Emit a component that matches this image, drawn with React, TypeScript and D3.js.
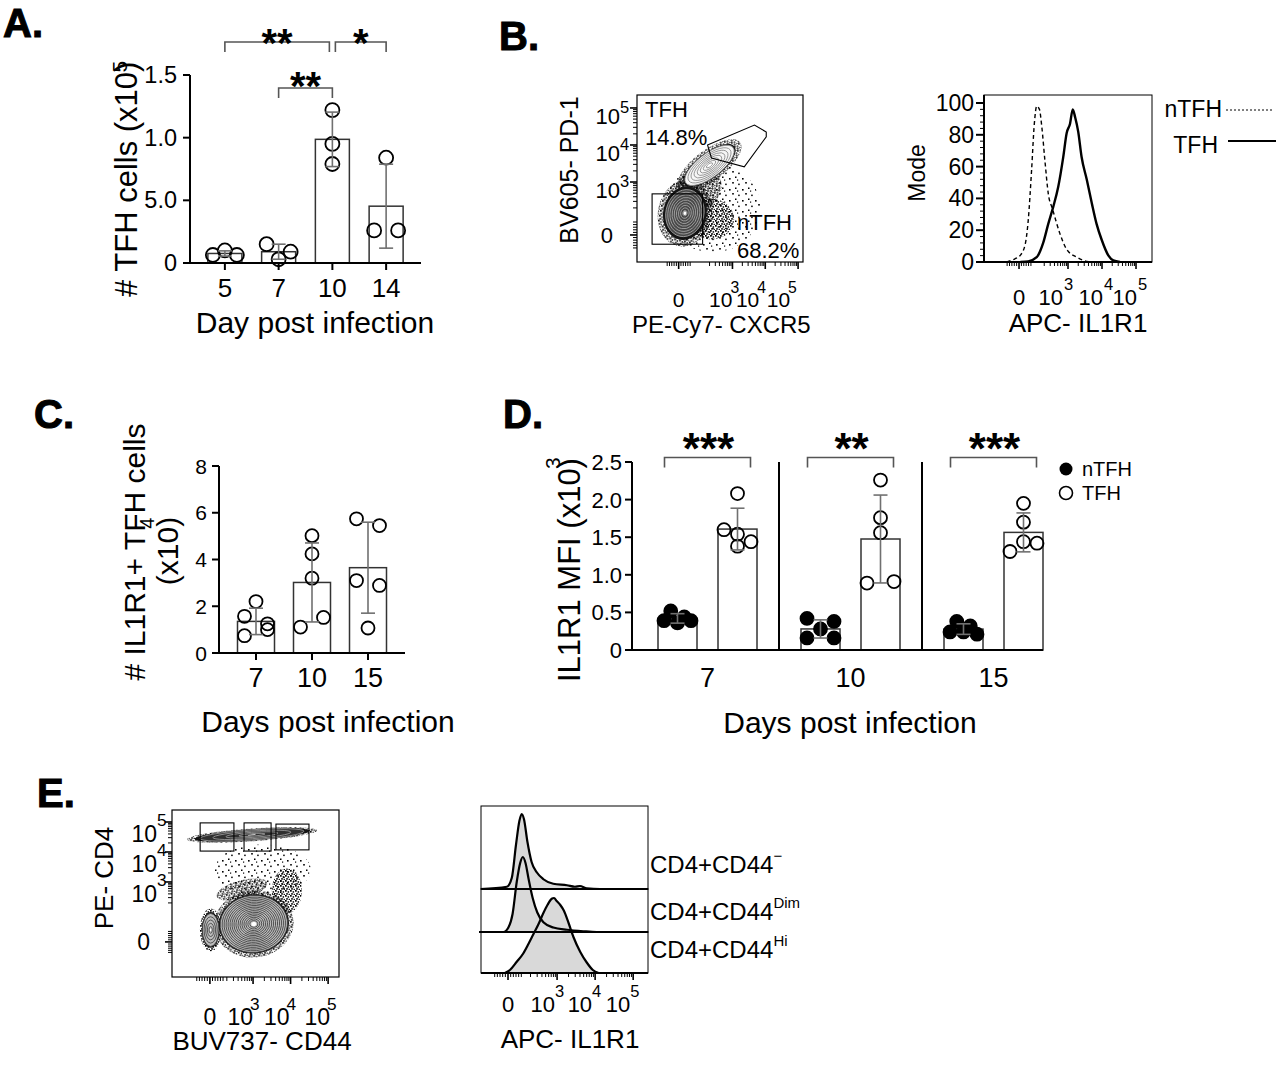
import * as d3 from "d3";
import React from "react";

const W = 1280;
const H = 1067;
const FONT = "'Liberation Sans', Arial, Helvetica, sans-serif";

// ---------- A. # TFH cells (x10^5) per mouse
const aDays = ["5", "7", "10", "14"];
const aCells = [
  [0.064, 0.1, 0.064],
  [0.15, 0.09, 0.03],
  [1.22, 0.95, 0.79],
  [0.84, 0.26, 0.26],
];
const aTicks = [0, 0.5, 1.0, 1.5];
const aTickLabels = ["0", "5.0", "1.0", "1.5"];
const aSig = [
  { from: "5", to: "10", y: 1.763, label: "**", gap: 3 },
  { from: "10", to: "14", y: 1.763, label: "*", gap: 3 },
  { from: "7", to: "10", y: 1.396, label: "**", gap: 6 },
];

// ---------- B. flow, PD-1 vs CXCR5 (values in decades of the biexponential axes)
const bPops = [
  { id: "nTFH", x: 1.55, y: 2.16, sx: 0.58, sy: 0.64, angle: 12 },
  { id: "TFH", x: 2.3, y: 3.45, sx: 0.9, sy: 0.32, angle: -37 },
];
const bClouds = [
  { x: 2.4, y: 2.3, sx: 1.45, sy: 1.2, angle: 0, kind: "sparse" },
  { x: 1.95, y: 2.8, sx: 0.75, sy: 0.55, angle: -30, kind: "dense" },
  { x: 2.35, y: 2.0, sx: 0.7, sy: 0.55, angle: 0, kind: "dense" },
];
const bTfhGate = [[2.24, 4.0], [3.67, 4.54], [4.03, 4.35], [4.03, 4.22], [3.36, 3.41], [2.36, 3.65]];
const bNtfhGate = [[0.55, 1.32], [2.09, 2.68]];

// ---------- B. histogram of IL1R1 (% of mode)
const bNtfhX = [1.2, 1.44, 1.59, 1.74, 1.83, 1.93, 2.01, 2.08, 2.16, 2.23, 2.32, 2.42, 2.55, 2.76, 2.96, 3.26, 3.45, 3.65];
const bNtfhY = [0, 2, 4, 11, 26, 58, 87, 98, 96, 85, 64, 43, 33, 18, 8, 3, 1, 0];
const bTfhX = [1.6, 1.83, 2.08, 2.27, 2.42, 2.57, 2.71, 2.86, 2.96, 3.06, 3.14, 3.21, 3.3, 3.4, 3.55, 3.7, 3.84, 3.99, 4.19, 4.33, 4.53];
const bTfhY = [0, 0.4, 3, 12, 24, 35, 47, 66, 81, 87, 96, 91, 82, 66, 52, 37, 24, 14, 4, 1, 0];
const modeTicks = [0, 20, 40, 60, 80, 100];

// ---------- C. # IL1R1+ TFH cells (x10^4)
const cDays = ["7", "10", "15"];
const cCells = [
  [2.2, 1.57, 0.74, 1.25, 1.0],
  [5.02, 4.24, 3.2, 1.11, 1.52],
  [5.74, 5.45, 3.1, 2.89, 1.07],
];
const cTicks = [0, 2, 4, 6, 8];

// ---------- D. IL1R1 MFI (x10^3)
const dDays = ["7", "10", "15"];
const dSubsets = ["nTFH", "TFH"];
const dNtfh = [
  [0.39, 0.52, 0.36, 0.44, 0.39],
  [0.42, 0.28, 0.38, 0.16, 0.16],
  [0.24, 0.38, 0.24, 0.32, 0.21],
];
const dTfh = [
  [2.08, 1.6, 1.54, 1.38, 1.44],
  [2.26, 1.76, 1.56, 0.89, 0.91],
  [1.95, 1.7, 1.31, 1.44, 1.42],
];
const dStars = ["***", "**", "***"];
const dTicks = [0, 0.5, 1, 1.5, 2, 2.5];
const dTickLabels = ["0", "0.5", "1.0", "1.5", "2.0", "2.5"];

// ---------- E. flow, CD4 vs CD44
const ePops = [
  { id: "CD4hi", x: 2.97, y: 4.57, sx: 1.39, sy: 0.17, angle: -4 },
  { id: "CD4neg", x: 3.02, y: 1.6, sx: 0.9, sy: 0.95, angle: -6 },
  { id: "lobe", x: 1.87, y: 1.4, sx: 0.22, sy: 0.55, angle: 0 },
];
const eClouds = [
  { x: 3.24, y: 3.4, sx: 1.3, sy: 0.85, angle: 0, kind: "sparse" },
  { x: 3.9, y: 2.7, sx: 0.4, sy: 0.75, angle: 0, kind: "dense" },
  { x: 2.7, y: 2.75, sx: 0.7, sy: 0.3, angle: -15, kind: "dense" },
];
const eGates = [
  [[1.59, 4.03], [2.49, 4.97]],
  [[2.76, 4.03], [3.48, 4.97]],
  [[3.61, 4.07], [4.49, 4.93]],
];

// ---------- E. stacked IL1R1 histograms (% of mode)
const eSubsets = ["CD44-", "CD44Dim", "CD44Hi"];
const eHistX = [
  [0.99, 1.68, 1.81, 1.92, 2.01, 2.07, 2.13, 2.22, 2.33, 2.47, 2.64, 2.9, 3.26, 3.47, 3.6, 3.78, 4.13, 5.4],
  [0.96, 1.59, 1.72, 1.83, 1.94, 2.03, 2.1, 2.17, 2.25, 2.36, 2.48, 2.64, 2.9, 3.26, 3.69, 4.04, 5.4],
  [1.63, 1.76, 1.94, 2.11, 2.25, 2.38, 2.51, 2.64, 2.75, 2.86, 2.92, 2.99, 3.08, 3.18, 3.3, 3.43, 3.61, 3.78, 3.94, 4.09],
];
const eHistY = [
  [0, 3, 15, 59, 91, 100, 93, 63, 36, 22, 13, 7, 5, 3, 4, 1, 0, 0],
  [0, 0, 6, 24, 67, 92, 100, 92, 71, 45, 26, 13, 6, 3, 1, 0, 0],
  [0, 4, 15, 26, 39, 52, 65, 80, 91, 99, 100, 96, 91, 83, 67, 48, 28, 14, 4, 0],
];

const popLook: any = {
  nTFH: { halo: 1.42, edge: 1.14, body: "#484848", line: "#a8a8a8", rings: 8 },
  TFH: { halo: 1.3, edge: 1.06, body: "#f6f6f6", line: "#8a8a8a", rings: 7 },
  CD4hi: { halo: 1.25, edge: 1.1, body: "#303030", line: "#a0a0a0", rings: 3 },
  CD4neg: { halo: 1.18, edge: 1.04, body: "#bcbcbc", line: "#3a3a3a", rings: 16 },
  lobe: { halo: 1.3, edge: 1.08, body: "#bcbcbc", line: "#3a3a3a", rings: 4 },
};

// prism-like horizontal spread of points that sit at the same height
function swarm(vals: number[], y: any, width: number) {
  const order = vals.map((_, i) => i).sort((a, b) => vals[b] - vals[a]);
  const rows: number[][] = [];
  let cur: number[] = [];
  order.forEach((i) => {
    if (cur.length) {
      const prev = cur[cur.length - 1];
      const first = cur[0];
      if (Math.abs(y(vals[i]) - y(vals[prev])) < 10 && Math.abs(y(vals[i]) - y(vals[first])) < 13) {
        cur.push(i);
        return;
      }
      rows.push(cur);
    }
    cur = [i];
  });
  if (cur.length) rows.push(cur);
  const off = vals.map(() => 0);
  rows.forEach((r) => {
    const s = r.slice().sort((a, b) => a - b);
    s.forEach((i, k) => (off[i] = s.length === 1 ? 0 : -width / 2 + (k * width) / (s.length - 1)));
  });
  return off;
}

function flowMinor(zero: number) {
  const out: number[] = [];
  for (let j = -5; j <= 5; j++) if (j !== 0) out.push(zero + j * 0.07);
  for (let k = 2; k <= 4; k++)
    for (let m = 2; m <= 9; m++) {
      const v = k + Math.log10(m);
      if (v > zero + 0.45) out.push(v);
    }
  return out;
}

function Stars({ cx, bottom, label, fs }: any) {
  return (
    <text x={cx} y={bottom + 0.44 * fs} textAnchor="middle" fontWeight="bold" fontSize={fs}>
      {label}
    </text>
  );
}

function Bracket({ x1, x2, y, drop }: any) {
  return <path d={`M${x1},${y + drop}V${y}H${x2}V${y + drop}`} fill="none" stroke="#555" strokeWidth={1.6} />;
}

function BarDots({ cx, vals, y, bw, r, spread, filled }: any) {
  const m = d3.mean(vals) as number;
  const sd = d3.deviation(vals) as number;
  const off = swarm(vals, y, spread);
  return (
    <g>
      <rect x={cx - bw / 2} y={y(m)} width={bw} height={y(0) - y(m)} fill="#fff" stroke="#333" strokeWidth={1.5} />
      {vals.map((v: number, j: number) => (
        <circle key={j} cx={cx + off[j]} cy={y(v)} r={r} fill={filled ? "#000" : "none"} stroke="#000" strokeWidth={1.8} />
      ))}
      <g stroke="#707070" strokeWidth={1.6}>
        <line x1={cx} x2={cx} y1={y(m + sd)} y2={y(Math.max(0, m - sd))} />
        <line x1={cx - 7} x2={cx + 7} y1={y(m + sd)} y2={y(m + sd)} />
        {m - sd > 0 && <line x1={cx - 7} x2={cx + 7} y1={y(m - sd)} y2={y(m - sd)} />}
      </g>
    </g>
  );
}

function PanelA() {
  const x = d3.scaleBand().domain(aDays).range([198, 413]);
  const y = d3.scaleLinear().domain([0, 1.5]).range([263, 75]);
  const cx = (d: string) => (x(d) as number) + x.bandwidth() / 2;
  return (
    <g>
      <text x={3} y={37} fontSize={40} fontWeight="bold" stroke="#000" strokeWidth={1}>A.</text>
      {aDays.map((d, i) => (
        <BarDots key={d} cx={cx(d)} vals={aCells[i]} y={y} bw={34} r={7} spread={24} />
      ))}
      <line x1={190} x2={190} y1={75} y2={263} stroke="#000" strokeWidth={2} />
      <line x1={189} x2={421} y1={263} y2={263} stroke="#000" strokeWidth={2} />
      {aTicks.map((t, i) => (
        <g key={t}>
          <line x1={183} x2={190} y1={y(t)} y2={y(t)} stroke="#000" strokeWidth={2} />
          <text x={177} y={y(t) + 8} textAnchor="end" fontSize={23.5}>{aTickLabels[i]}</text>
        </g>
      ))}
      {aDays.map((d) => (
        <g key={d}>
          <line x1={cx(d)} x2={cx(d)} y1={263} y2={270} stroke="#000" strokeWidth={2} />
          <text x={cx(d)} y={297} textAnchor="middle" fontSize={26}>{d}</text>
        </g>
      ))}
      {aSig.map((s, i) => {
        const x1 = cx(s.from) + (s.from === "10" ? 3 : 0);
        const x2 = cx(s.to) - (s.to === "10" && s.y > 1.5 ? 3 : 0);
        return (
          <g key={i}>
            <Bracket x1={x1} x2={x2} y={y(s.y)} drop={10} />
            <Stars cx={(x1 + x2) / 2} bottom={y(s.y) - s.gap} label={s.label} fs={40} />
          </g>
        );
      })}
      <text x={315} y={333} textAnchor="middle" fontSize={30}>Day post infection</text>
      <text transform="translate(137,297) rotate(-90)" fontSize={31}>
        # TFH cells (x10)
        <tspan dx={-11} dy={-10} fontSize={21}>5</tspan>
      </text>
    </g>
  );
}

function Ell({ p, s, x, y, ...rest }: any) {
  const kx = x(1) - x(0);
  const ky = y(0) - y(1);
  const cx = x(p.x);
  const cy = y(p.y);
  return <ellipse cx={cx} cy={cy} rx={p.sx * kx * s} ry={p.sy * ky * s} transform={`rotate(${p.angle} ${cx} ${cy})`} {...rest} />;
}

function DotPlot({ x, y, pops, clouds, clip }: any) {
  return (
    <g clipPath={`url(#${clip})`}>
      {clouds.map((c: any, i: number) => (
        <Ell key={"c" + i} p={c} s={1} x={x} y={y} fill={c.kind === "dense" ? "url(#dotsDense)" : "url(#dotsSparse)"} />
      ))}
      {pops.map((p: any) => (
        <Ell key={"h" + p.id} p={p} s={popLook[p.id].halo} x={x} y={y} fill="url(#dotsDense)" />
      ))}
      {pops.map((p: any) => (
        <Ell key={"e" + p.id} p={p} s={popLook[p.id].edge} x={x} y={y} fill="#141414" />
      ))}
      {pops.map((p: any) => {
        const lk = popLook[p.id];
        return (
          <g key={"b" + p.id}>
            <Ell p={p} s={1} x={x} y={y} fill={lk.body} stroke={lk.line} strokeWidth={0.8} />
            {d3.range(1, lk.rings + 1).map((k) => (
              <Ell key={k} p={p} s={1 - k / (lk.rings + 1)} x={x} y={y} fill="none" stroke={lk.line} strokeWidth={0.8} />
            ))}
            <Ell p={p} s={0.08} x={x} y={y} fill="#fff" />
          </g>
        );
      })}
    </g>
  );
}

function FlowX({ x, y0, zero, base, supBase, fs, shifts, supGap }: any) {
  const [lo, hi] = x.domain();
  const minors = flowMinor(zero).filter((v) => v > lo && v < hi);
  return (
    <g>
      {minors.map((v, i) => (
        <line key={i} x1={x(v)} x2={x(v)} y1={y0} y2={y0 + 4} stroke="#000" strokeWidth={1} />
      ))}
      {[zero, 3, 4, 5].map((v) => (
        <line key={v} x1={x(v)} x2={x(v)} y1={y0} y2={y0 + 7} stroke="#000" strokeWidth={1.6} />
      ))}
      <text x={x(zero)} y={base} textAnchor="middle" fontSize={fs}>0</text>
      {[3, 4, 5].map((e, i) => (
        <g key={e}>
          <text x={x(e) + shifts[i]} y={base} textAnchor="end" fontSize={fs}>10</text>
          <text x={x(e) + shifts[i] + supGap} y={supBase} fontSize={fs * 0.75}>{e}</text>
        </g>
      ))}
    </g>
  );
}

function FlowY({ y, x0, zero, end, fs, zeroBase, dBase, dSup }: any) {
  const [lo, hi] = y.domain();
  const minors = flowMinor(zero).filter((v) => v > lo && v < hi);
  return (
    <g>
      {minors.map((v, i) => (
        <line key={i} x1={x0 - 4} x2={x0} y1={y(v)} y2={y(v)} stroke="#000" strokeWidth={1} />
      ))}
      {[zero, 3, 4, 5].map((v) => (
        <line key={v} x1={x0 - 7} x2={x0} y1={y(v)} y2={y(v)} stroke="#000" strokeWidth={1.6} />
      ))}
      <text x={end - 7} y={zeroBase} textAnchor="end" fontSize={fs}>0</text>
      {[3, 4, 5].map((e) => (
        <g key={e}>
          <text x={end} y={y(e) + dBase} textAnchor="end" fontSize={fs}>10</text>
          <text x={end} y={y(e) + dSup} fontSize={fs * 0.75}>{e}</text>
        </g>
      ))}
    </g>
  );
}

function PanelBDot() {
  const x = d3.scaleLinear().domain([0.09, 5.15]).range([637, 803]);
  const y = d3.scaleLinear().domain([0.84, 5.35]).range([262, 95]);
  const gate = d3.line().x((d: any) => x(d[0])).y((d: any) => y(d[1]));
  return (
    <g>
      <text x={499} y={50} fontSize={40} fontWeight="bold" stroke="#000" strokeWidth={1}>B.</text>
      <clipPath id="clipB">
        <rect x={637} y={95} width={166} height={167} />
      </clipPath>
      <DotPlot x={x} y={y} pops={bPops} clouds={bClouds} clip="clipB" />
      <path d={(gate(bTfhGate as any) as string) + "Z"} fill="none" stroke="#000" strokeWidth={1.1} />
      <rect x={x(bNtfhGate[0][0])} y={y(bNtfhGate[1][1])} width={x(bNtfhGate[1][0]) - x(bNtfhGate[0][0])} height={y(bNtfhGate[0][1]) - y(bNtfhGate[1][1])} fill="none" stroke="#000" strokeWidth={1.1} />
      <rect x={637} y={95} width={166} height={167} fill="none" stroke="#000" strokeWidth={1.2} />
      <g fontSize={22}>
        <text x={645} y={117}>TFH</text>
        <text x={645} y={145}>14.8%</text>
        <text x={737} y={230}>nTFH</text>
        <text x={737} y={258}>68.2%</text>
      </g>
      <FlowX x={x} y0={262} zero={1.36} base={307} supBase={293} fs={21} shifts={[0, -6, -8]} supGap={-2} />
      <FlowY y={y} x0={637} zero={1.57} end={620} fs={22} zeroBase={243} dBase={16} dSup={5} />
      <text x={632} y={333} fontSize={24}>PE-Cy7- CXCR5</text>
      <text transform="translate(578,170) rotate(-90)" textAnchor="middle" fontSize={25}>BV605- PD-1</text>
    </g>
  );
}

function PanelBHist() {
  const x = d3.scaleLinear().domain([0.53, 5.47]).range([984, 1152]);
  const y = d3.scaleLinear().domain([0, 100]).range([262, 103]);
  const line = d3.line().x((d: any) => x(d[0])).y((d: any) => y(d[1])).curve(d3.curveMonotoneX);
  const dashed = bNtfhX.map((v, i) => [v, bNtfhY[i]]);
  const solid = bTfhX.map((v, i) => [v, bTfhY[i]]);
  return (
    <g>
      <rect x={984} y={95} width={168} height={167} fill="none" stroke="#000" strokeWidth={1} />
      <path d={line(dashed as any) as string} fill="none" stroke="#000" strokeWidth={1.4} strokeDasharray="4,3" />
      <path d={line(solid as any) as string} fill="none" stroke="#000" strokeWidth={2.4} />
      <line x1={984} x2={984} y1={95} y2={263} stroke="#000" strokeWidth={2} />
      <line x1={983} x2={1152} y1={262} y2={262} stroke="#000" strokeWidth={2} />
      {d3.range(0, 101, 4).map((t) => (
        <line key={t} x1={t % 20 === 0 ? 976 : 980} x2={984} y1={y(t)} y2={y(t)} stroke="#000" strokeWidth={t % 20 === 0 ? 2 : 1} />
      ))}
      {modeTicks.map((t) => (
        <text key={t} x={974} y={y(t) + 8} textAnchor="end" fontSize={23}>{t}</text>
      ))}
      <FlowX x={x} y0={262} zero={1.56} base={305} supBase={290} fs={22} shifts={[-5, 1, 1]} supGap={1} />
      <text x={1078} y={332} textAnchor="middle" fontSize={26}>APC- IL1R1</text>
      <text transform="translate(925,173) rotate(-90)" textAnchor="middle" fontSize={23}>Mode</text>
      <text x={1222} y={117} textAnchor="end" fontSize={23}>nTFH</text>
      <line x1={1226} x2={1274} y1={110} y2={110} stroke="#000" strokeWidth={1} strokeDasharray="2,2" />
      <text x={1218} y={153} textAnchor="end" fontSize={23}>TFH</text>
      <line x1={1228} x2={1276} y1={141} y2={141} stroke="#000" strokeWidth={2} />
    </g>
  );
}

function PanelC() {
  const x = d3.scaleBand().domain(cDays).range([228, 396]);
  const y = d3.scaleLinear().domain([0, 8]).range([653, 466]);
  const cx = (d: string) => (x(d) as number) + x.bandwidth() / 2;
  return (
    <g>
      <text x={34} y={428} fontSize={40} fontWeight="bold" stroke="#000" strokeWidth={1}>C.</text>
      {cDays.map((d, i) => (
        <BarDots key={d} cx={cx(d)} vals={cCells[i]} y={y} bw={37} r={6.5} spread={23} />
      ))}
      <line x1={219} x2={219} y1={466} y2={653} stroke="#000" strokeWidth={2} />
      <line x1={218} x2={405} y1={653} y2={653} stroke="#000" strokeWidth={2} />
      {cTicks.map((t) => (
        <g key={t}>
          <line x1={212} x2={219} y1={y(t)} y2={y(t)} stroke="#000" strokeWidth={2} />
          <text x={207} y={y(t) + 7.5} textAnchor="end" fontSize={21}>{t}</text>
        </g>
      ))}
      {cDays.map((d) => (
        <g key={d}>
          <line x1={cx(d)} x2={cx(d)} y1={653} y2={660} stroke="#000" strokeWidth={2} />
          <text x={cx(d)} y={687} textAnchor="middle" fontSize={27}>{d}</text>
        </g>
      ))}
      <text x={328} y={732} textAnchor="middle" fontSize={30}>Days post infection</text>
      <text transform="translate(145,552) rotate(-90)" textAnchor="middle" fontSize={30}># IL1R1+ TFH cells</text>
      <text transform="translate(178,551) rotate(-90)" textAnchor="middle" fontSize={30}>
        (x10)
        <tspan dx={-12} dy={-24} fontSize={20}>4</tspan>
      </text>
    </g>
  );
}

function PanelD() {
  const x = d3.scaleBand().domain(dDays).range([636, 1065]);
  const sub = d3.scalePoint().domain(dSubsets).range([-30, 30]);
  const y = d3.scaleLinear().domain([0, 2.5]).range([650, 462]);
  const cx = (d: string) => (x(d) as number) + x.bandwidth() / 2;
  return (
    <g>
      <text x={503} y={428} fontSize={40} fontWeight="bold" stroke="#000" strokeWidth={1}>D.</text>
      {dDays.map((d, i) => (
        <g key={d}>
          <BarDots cx={cx(d) + (sub("nTFH") as number)} vals={dNtfh[i]} y={y} bw={39} r={6.5} spread={27} filled />
          <BarDots cx={cx(d) + (sub("TFH") as number)} vals={dTfh[i]} y={y} bw={39} r={6.5} spread={27} />
          <Bracket x1={cx(d) - 43} x2={cx(d) + 43} y={457.5} drop={10} />
          <Stars cx={cx(d) + 1} bottom={445} label={dStars[i]} fs={44} />
          <text x={cx(d)} y={687} textAnchor="middle" fontSize={27}>{d}</text>
        </g>
      ))}
      {dDays.slice(1).map((d) => (
        <line key={d} x1={x(d)} x2={x(d)} y1={462} y2={650} stroke="#000" strokeWidth={2} />
      ))}
      <line x1={632} x2={632} y1={462} y2={650} stroke="#000" strokeWidth={2} />
      <line x1={631} x2={1043} y1={650} y2={650} stroke="#000" strokeWidth={2} />
      {dTicks.map((t, i) => (
        <g key={t}>
          <line x1={625} x2={632} y1={y(t)} y2={y(t)} stroke="#000" strokeWidth={2} />
          <text x={622} y={y(t) + 8} textAnchor="end" fontSize={22}>{dTickLabels[i]}</text>
        </g>
      ))}
      <text x={850} y={733} textAnchor="middle" fontSize={30}>Days post infection</text>
      <text transform="translate(580,682) rotate(-90)" fontSize={31}>
        IL1R1 MFI (x10)
        <tspan dx={-11} dy={-20} fontSize={21}>3</tspan>
      </text>
      <circle cx={1066} cy={469} r={6.5} fill="#000" />
      <text x={1082} y={476} fontSize={20}>nTFH</text>
      <circle cx={1066} cy={493} r={6.5} fill="none" stroke="#000" strokeWidth={1.6} />
      <text x={1082} y={500} fontSize={20}>TFH</text>
    </g>
  );
}

function PanelEDot() {
  const x = d3.scaleLinear().domain([0.84, 5.29]).range([172, 339]);
  const y = d3.scaleLinear().domain([-0.17, 5.4]).range([977, 810]);
  return (
    <g>
      <text x={37} y={807} fontSize={40} fontWeight="bold" stroke="#000" strokeWidth={1}>E.</text>
      <clipPath id="clipE">
        <rect x={172} y={810} width={167} height={167} />
      </clipPath>
      <DotPlot x={x} y={y} pops={ePops} clouds={eClouds} clip="clipE" />
      {eGates.map((g, i) => (
        <rect key={i} x={x(g[0][0])} y={y(g[1][1])} width={x(g[1][0]) - x(g[0][0])} height={y(g[0][1]) - y(g[1][1])} fill="none" stroke="#000" strokeWidth={1.1} />
      ))}
      <rect x={172} y={810} width={167} height={167} fill="none" stroke="#000" strokeWidth={1.2} />
      <FlowX x={x} y0={977} zero={1.85} base={1025} supBase={1010} fs={23} shifts={[0, -1, 2]} supGap={-3} />
      <FlowY y={y} x0={172} zero={1.0} end={157} fs={23} zeroBase={950} dBase={20} dSup={4} />
      <text x={262} y={1050} textAnchor="middle" fontSize={26}>BUV737- CD44</text>
      <text transform="translate(113,878) rotate(-90)" textAnchor="middle" fontSize={26}>PE- CD4</text>
    </g>
  );
}

function PanelEHist() {
  const x = d3.scaleLinear().domain([1.0, 5.39]).range([481, 648]);
  const h = d3.scaleLinear().domain([0, 100]).range([0, 75]);
  const bases = [889, 932, 973];
  const sup = ["\u2212", "Dim", "Hi"];
  const area = (b: number) =>
    d3.area().x((d: any) => x(d[0])).y0(b).y1((d: any) => b - h(d[1])).curve(d3.curveMonotoneX);
  const line = (b: number) =>
    d3.line().x((d: any) => x(d[0])).y((d: any) => b - h(d[1])).curve(d3.curveMonotoneX);
  const pts = eSubsets.map((_, i) => eHistX[i].map((v, j) => [v, eHistY[i][j]]));
  return (
    <g>
      <rect x={481} y={806} width={167} height={167} fill="none" stroke="#000" strokeWidth={1} />
      {[2, 1, 0].map((i) => (
        <path key={"a" + i} d={area(bases[i])(pts[i] as any) as string} fill="#d9d9d9" />
      ))}
      {[2, 1, 0].map((i) => (
        <g key={"l" + i}>
          <path d={line(bases[i])(pts[i] as any) as string} fill="none" stroke="#000" strokeWidth={2.2} />
          <line x1={i === 1 ? 479 : 481} x2={648} y1={bases[i]} y2={bases[i]} stroke="#000" strokeWidth={2} />
        </g>
      ))}
      <FlowX x={x} y0={973} zero={1.71} base={1012} supBase={997} fs={22} shifts={[-2, -3, -3]} supGap={0} />
      <text x={570} y={1048} textAnchor="middle" fontSize={26}>APC- IL1R1</text>
      {eSubsets.map((s, i) => (
        <text key={s} x={650} y={[873, 920, 958][i]} fontSize={24}>
          CD4+CD44
          <tspan dy={-12} fontSize={15}>{sup[i]}</tspan>
        </text>
      ))}
    </g>
  );
}

export default function App() {
  return (
    <svg width={W} height={H} viewBox={`0 0 ${W} ${H}`} style={{ position: "absolute", left: 0, top: 0, background: "#fff" }} fontFamily={FONT}>
      <defs>
        <pattern id="dotsDense" width={5} height={5} patternUnits="userSpaceOnUse">
          <rect x={0} y={0} width={1.7} height={1.7} fill="#000" />
          <rect x={2.6} y={1.2} width={1.5} height={1.5} fill="#000" />
          <rect x={1.2} y={3.1} width={1.6} height={1.6} fill="#000" />
          <rect x={3.6} y={3.8} width={1.3} height={1.3} fill="#000" />
        </pattern>
        <pattern id="dotsSparse" width={13} height={11} patternUnits="userSpaceOnUse">
          <rect x={1} y={2} width={1.6} height={1.6} fill="#000" />
          <rect x={7} y={0.5} width={1.5} height={1.5} fill="#000" />
          <rect x={4.2} y={6} width={1.6} height={1.6} fill="#000" />
          <rect x={10.2} y={7.6} width={1.5} height={1.5} fill="#000" />
          <rect x={9} y={3.5} width={1.2} height={1.2} fill="#000" />
        </pattern>
      </defs>
      <rect width={W} height={H} fill="#fff" />
      <PanelA />
      <PanelBDot />
      <PanelBHist />
      <PanelC />
      <PanelD />
      <PanelEDot />
      <PanelEHist />
    </svg>
  );
}
